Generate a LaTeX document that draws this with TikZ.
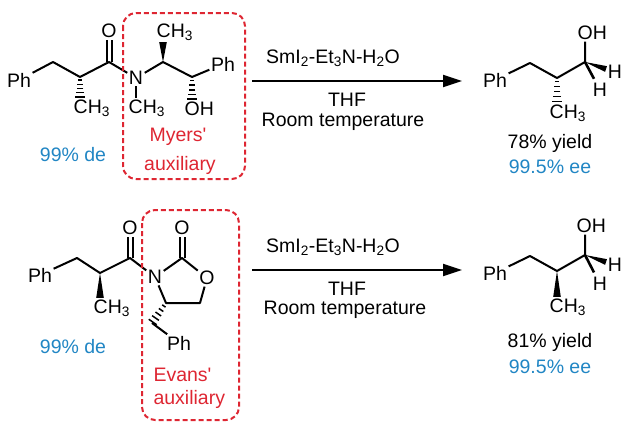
\documentclass[tikz,border=0pt]{standalone}
\usepackage{fontspec}
\setmainfont{Liberation Sans}
\usetikzlibrary{arrows.meta,calc}
\tikzset{>={Triangle[length=19pt,width=12pt]}}
\definecolor{auxred}{RGB}{222,38,50}
\definecolor{deblue}{RGB}{33,134,196}

\begin{document}
\begin{tikzpicture}[x=1pt,y=-1pt,font=\fontsize{19.5}{23}\selectfont]
\tikzstyle{bond}=[line width=2pt,line join=round]
\tikzstyle{atom}=[inner sep=1.5pt]
\tikzstyle{hash}=[line width=1.5pt]
\tikzstyle{aux}=[draw=auxred,line width=2pt,dash pattern=on 5pt off 3pt,rounded corners=13pt]
\useasboundingbox (0,0) rectangle (630,431);

    % Myers amide
    \node[atom] (ph1) at (19,80){Ph};
    \coordinate (a1) at (53,62);
    \coordinate (a2) at (80,77);
    \coordinate (a3) at (109,62);
    \node[atom] (o1) at (109,31){O};
    \node[atom] (n1) at (136,78){N};
    \node[atom,anchor=west] (me1) at (72,108){CH\textsubscript{3}};
    \node[atom,anchor=west] (nme) at (127,108){CH\textsubscript{3}};
    \coordinate (b1) at (163,62);
    \node[atom,anchor=west] (cm1) at (155,32){CH\textsubscript{3}};
    \coordinate (b2) at (192,77);
    \node[atom,anchor=west] (oh1) at (183,109){OH};
    \node[atom] (ph2) at (223,64){Ph};
    \coordinate (h1) at (a2 |- me1.north);
    \coordinate (w1) at (b1 |- cm1.south);
    \coordinate (h2) at (b2 |- oh1.north);

    \draw[bond] (ph1) -- (a1) -- (a2) -- (a3) -- (n1) -- (b1) -- (b2) -- (ph2);
    \draw[bond] ($(a3)+(-2.5,0)$) -- ($(o1.south)+(-2.5,0)$);
    \draw[bond] ($(a3)+(2.5,0)$) -- ($(o1.south)+(2.5,0)$);
    \draw[bond] (n1) -- (n1 |- nme.north);
    \fill (b1) -- ($(w1)!3.8pt!90:(b1)$) -- ($(w1)!3.8pt!-90:(b1)$) -- cycle;
    \foreach \t in {0.15,0.35,0.55,0.75,0.95}{
      \draw[hash] ($(a2)!\t!(h1)!1.5pt+3.5pt*\t!90:(h1)$) -- ($(a2)!\t!(h1)!1.5pt+3.5pt*\t!-90:(h1)$);
      \draw[hash] ($(b2)!\t!(h2)!1.5pt+3.5pt*\t!90:(h2)$) -- ($(b2)!\t!(h2)!1.5pt+3.5pt*\t!-90:(h2)$);
    }

    \draw[aux] (123,13) rectangle (245,179);
    \node[text=auxred] (my) at (178,137){Myers\textquotesingle};
    \node[text=auxred] (myaux) at (180,165){auxiliary};
    \node[text=deblue] (de1) at (73,155){99\% de};

    % first reaction arrow
    \coordinate (s1) at (252,81);
    \coordinate (e1) at (462,81);
    \draw[bond,->] (s1) -- (e1);
    \node (sm1) at (333,58){SmI\textsubscript{2}-Et\textsubscript{3}N-H\textsubscript{2}O};
    \node (thf1) at (347,100){THF};
    \node (rt1) at (343,122){Room temperature};

    % first product
    \node[atom] (pph1) at (495,80){Ph};
    \coordinate (p1) at (530,63);
    \coordinate (p2) at (557,78);
    \coordinate (p3) at (585,62);
    \node[atom,anchor=west] (pme1) at (548,113){CH\textsubscript{3}};
    \node[atom,anchor=west] (poh1) at (576,33){OH};
    \node[atom] (phr1) at (615,72){H};
    \node[atom] (phl1) at (600,90){H};
    \coordinate (h3) at (p2 |- pme1.north);
    \coordinate (w3) at ($(p3)!0.7!(phr1)$);

    \draw[bond] (pph1) -- (p1) -- (p2) -- (p3) -- (p3 |- poh1.south);
    \draw[line width=2.6pt] (p3) -- ($(p3)!0.6!(phl1)$);
    \fill (p3) -- ($(w3)!3pt!90:(p3)$) -- ($(w3)!3pt!-90:(p3)$) -- cycle;
    \foreach \t in {0.15,0.35,0.55,0.75,0.95}
      \draw[hash] ($(p2)!\t!(h3)!1.5pt+3.5pt*\t!90:(h3)$) -- ($(p2)!\t!(h3)!1.5pt+3.5pt*\t!-90:(h3)$);
    \node (yd1) at (550,143){78\% yield};
    \node[text=deblue] (ee1) at (550,167){99.5\% ee};

    % Evans imide
    \node[atom] (ph3) at (40,275){Ph};
    \coordinate (c1) at (77,258);
    \coordinate (c2) at (100,273);
    \coordinate (c3) at (130,258);
    \node[atom] (o3) at (130,228){O};
    \node[atom] (n2) at (155,277){N};
    \node[atom,anchor=west] (me3) at (92,308){CH\textsubscript{3}};
    \coordinate (r2) at (182,258);
    \node[atom] (o4) at (182,228){O};
    \node[atom] (o5) at (207,278){O};
    \coordinate (r5) at (200,303);
    \coordinate (r4) at (166,303);
    \coordinate (bn) at (152,323);
    \node[atom] (ph4) at (179,343){Ph};
    \coordinate (w5) at (c2 |- me3.north);

    \draw[bond] (ph3) -- (c1) -- (c2) -- (c3) -- (n2) -- (r2) -- (o5) -- (r5) -- (r4) -- (n2);
    \draw[bond] ($(c3)+(-2.5,0)$) -- ($(o3.south)+(-2.5,0)$);
    \draw[bond] ($(c3)+(2.5,0)$) -- ($(o3.south)+(2.5,0)$);
    \draw[bond] ($(r2)+(-2.5,0)$) -- ($(o4.south)+(-2.5,0)$);
    \draw[bond] ($(r2)+(2.5,0)$) -- ($(o4.south)+(2.5,0)$);
    \draw[bond] (bn) -- (ph4);
    \fill (c2) -- ($(w5)!3.8pt!90:(c2)$) -- ($(w5)!3.8pt!-90:(c2)$) -- cycle;
    \foreach \t in {0.15,0.35,0.55,0.75,0.95}
      \draw[hash] ($(r4)!\t!(bn)!1.5pt+3.5pt*\t!90:(bn)$) -- ($(r4)!\t!(bn)!1.5pt+3.5pt*\t!-90:(bn)$);

    \draw[aux] (142,210) rectangle (239,420);
    \node[text=auxred,anchor=west] (ev) at (150,375){Evans\textquotesingle};
    \node[text=auxred,anchor=west] (evaux) at (150,399){auxiliary};
    \node[text=deblue] (de2) at (73,347){99\% de};

    % second reaction arrow
    \coordinate (s2) at (252,270);
    \coordinate (e2) at (462,270);
    \draw[bond,->] (s2) -- (e2);
    \node (sm2) at (333,247){SmI\textsubscript{2}-Et\textsubscript{3}N-H\textsubscript{2}O};
    \node (thf2) at (347,289){THF};
    \node (rt2) at (345,310){Room temperature};

    % second product
    \node[atom] (pph2) at (495,273){Ph};
    \coordinate (q1) at (530,256);
    \coordinate (q2) at (557,271);
    \coordinate (q3) at (585,255);
    \node[atom,anchor=west] (pme2) at (548,307){CH\textsubscript{3}};
    \node[atom,anchor=west] (poh2) at (575,226){OH};
    \node[atom] (phr2) at (615,265){H};
    \node[atom] (phl2) at (600,284){H};
    \coordinate (w6) at (q2 |- pme2.north);
    \coordinate (w7) at ($(q3)!0.7!(phr2)$);

    \draw[bond] (pph2) -- (q1) -- (q2) -- (q3) -- (q3 |- poh2.south);
    \draw[line width=2.6pt] (q3) -- ($(q3)!0.6!(phl2)$);
    \fill (q3) -- ($(w7)!3pt!90:(q3)$) -- ($(w7)!3pt!-90:(q3)$) -- cycle;
    \fill (q2) -- ($(w6)!3.8pt!90:(q2)$) -- ($(w6)!3.8pt!-90:(q2)$) -- cycle;
    \node (yd2) at (550,342){81\% yield};
    \node[text=deblue] (ee2) at (550,367){99.5\% ee};

\end{tikzpicture}
\end{document}
